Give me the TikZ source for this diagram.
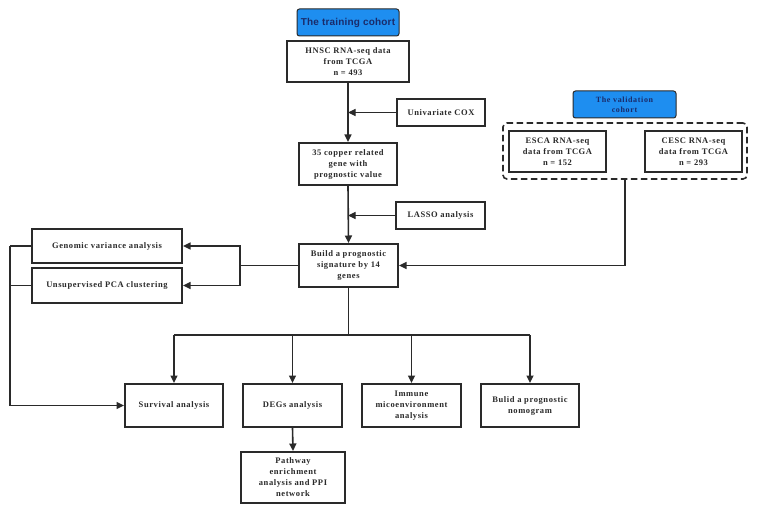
\documentclass[tikz,border=0pt]{standalone}
\usepackage{fontspec}
\setmainfont{Liberation Serif}
\newfontfamily\boxsans{Liberation Sans}
\usetikzlibrary{arrows.meta}
\definecolor{cblue}{HTML}{1E8EF0}
\definecolor{cnavy}{HTML}{1A2B6A}
\definecolor{cline}{HTML}{2A2A2A}
\tikzset{
  bx/.style={draw=cline, line width=2pt, fill=white, align=center, inner sep=0pt,
     font=\fontsize{8.5}{11}\selectfont\bfseries\addfontfeature{LetterSpace=7}, text=cline},
  cohort/.style={draw=cline, line width=1pt, fill=cblue, rounded corners=2.5pt, align=center,
     inner sep=0pt, text=cnavy},
  conn/.style={draw=cline, line width=1.6pt},
  arr/.style={conn, -{Triangle[length=7.5pt,width=7pt]}},
  thinarr/.style={draw=cline, line width=1pt, -{Triangle[length=7.5pt,width=7pt]}},
}
\begin{document}
\begin{tikzpicture}[x=1pt,y=-1pt]
\useasboundingbox (0,0) rectangle (757,513);
% training cohort
\node[cohort, minimum width=102pt, minimum height=27pt, font=\boxsans\fontsize{10}{12}\selectfont\bfseries\addfontfeature{LetterSpace=2}] (train) at (348,22.5) {The training cohort};
\node[bx, minimum width=122pt, minimum height=41pt] (hnsc) at (348,61.5) {HNSC RNA-seq data\\from TCGA\\n = 493};
\node[bx, line width=1.3pt, minimum width=88pt, minimum height=27pt] (cox) at (441,112.5) {Univariate COX};
\node[bx, minimum width=98pt, minimum height=42pt] (copper) at (348,164) {35 copper related\\gene with\\prognostic value};
\node[bx, line width=1.3pt, minimum width=89pt, minimum height=27pt] (lasso) at (440.5,215.5) {LASSO analysis};
\node[bx, minimum width=99pt, minimum height=43pt] (build) at (348.5,265.5) {Build a prognostic\\signature by 14\\genes};
% validation cohort
\node[cohort, minimum width=103pt, minimum height=27pt, font=\fontsize{8}{10}\selectfont\bfseries\addfontfeature{LetterSpace=8}] (valid) at (624.5,104.5) {The validation\\cohort};
\node[draw=cline, line width=1.6pt, dash pattern=on 6.5pt off 3.5pt, rounded corners=4pt, minimum width=244pt, minimum height=56pt, inner sep=0pt] (vgroup) at (625,151) {};
\node[bx, minimum width=97pt, minimum height=41pt] (esca) at (557.5,151.5) {ESCA RNA-seq\\data from TCGA\\n = 152};
\node[bx, minimum width=97pt, minimum height=41pt] (cesc) at (693.5,151.5) {CESC RNA-seq\\data from TCGA\\n = 293};
% left analyses
\node[bx, minimum width=150pt, minimum height=34pt] (genomic) at (107,246) {Genomic variance analysis};
\node[bx, minimum width=150pt, minimum height=35pt] (pca) at (107,285.5) {Unsupervised PCA clustering};
% bottom row
\node[bx, minimum width=98pt, minimum height=43pt] (survival) at (174,405.5) {Survival analysis};
\node[bx, minimum width=99pt, minimum height=43pt] (degs) at (292.5,405.5) {DEGs analysis};
\node[bx, minimum width=99pt, minimum height=43pt] (immune) at (411.5,405.5) {Immune\\micoenvironment\\analysis};
\node[bx, minimum width=98pt, minimum height=43pt] (nomo) at (530,405.5) {Bulid a prognostic\\nomogram};
\node[bx, minimum width=104pt, minimum height=51pt] (pathway) at (293,477.5) {Pathway\\enrichment\\analysis and PPI\\network};
% helper coordinates
\coordinate (coxj) at (hnsc.south |- cox.west);
\coordinate (lassoj) at (copper.south |- lasso.west);
\coordinate (vdown) at (625,179);
\coordinate (lj) at (240,265.5);
\coordinate (farl) at (10,246);
\coordinate (busy) at (348.5,335);
% connectors
\draw[arr] (hnsc.south) -- (copper.north);
\draw[thinarr] (cox.west) -- (coxj);
\draw[arr] (copper.south) -- (build.north);
\draw[thinarr] (lasso.west) -- (lassoj);
\draw[arr] (vdown) |- (build.east);
\draw[conn] (build.west) -- (lj);
\draw[arr] (lj) |- (genomic.east);
\draw[arr] (lj) |- (pca.east);
\draw[conn] (genomic.west) -- (farl);
\draw[conn] (pca.west) -- (farl |- pca.west);
\draw[arr] (farl) |- (survival.west);
\draw[conn] (build.south) -- (busy);
\draw[conn] (survival.north |- busy) -- (nomo.north |- busy);
\draw[arr] (survival.north |- busy) -- (survival.north);
\draw[arr] (degs.north |- busy) -- (degs.north);
\draw[arr] (immune.north |- busy) -- (immune.north);
\draw[arr] (nomo.north |- busy) -- (nomo.north);
\draw[arr] (degs.south) -- (pathway.north);
\end{tikzpicture}
\end{document}
